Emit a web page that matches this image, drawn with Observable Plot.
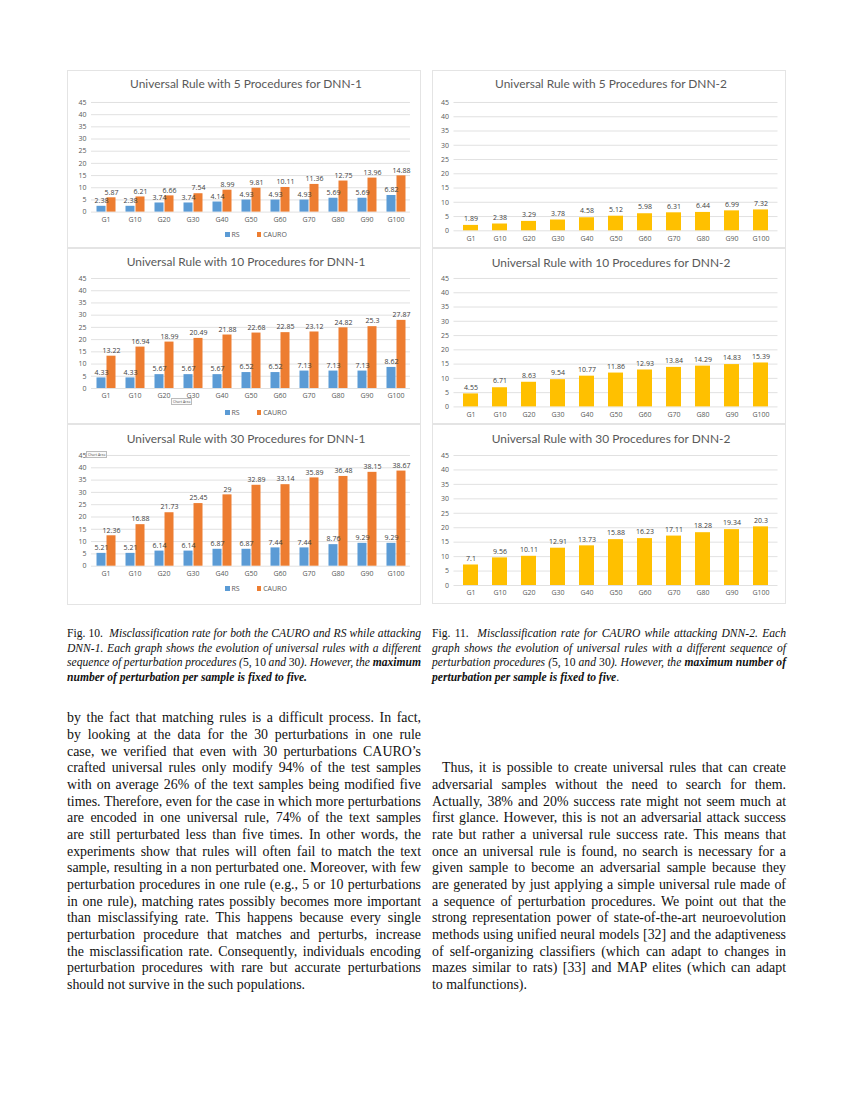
<!DOCTYPE html>
<html><head><meta charset="utf-8">
<script src="https://cdn.jsdelivr.net/npm/d3@7"></script>
<script src="https://cdn.jsdelivr.net/npm/@observablehq/plot@0.6"></script>
<style>
body{margin:0;background:#fff;}
#page{position:relative;width:850px;height:1100px;background:#fff;overflow:hidden;}
.panel{position:absolute;border:1px solid #e4e4e4;box-sizing:border-box;background:#fff;}
.title{position:absolute;white-space:nowrap;font-family:Lato,"Open Sans",sans-serif;color:#595959;line-height:1;}
.chart{position:absolute;}
.legend{position:absolute;font-family:"Open Sans",sans-serif;font-size:7px;color:#595959;white-space:nowrap;line-height:1;}
.legend .sw{display:inline-block;width:4.5px;height:4.5px;margin-right:2px;vertical-align:0px;}
.line{position:absolute;white-space:nowrap;font-family:"Liberation Serif","Times New Roman",serif;color:#111;}
.tip{position:absolute;font-family:"Open Sans",sans-serif;font-size:3.5px;color:#555;background:#fafafa;border:0.5px solid #bbb;padding:0 1px;line-height:5px;white-space:nowrap;}
</style></head><body><div id="page"></div>
<script>
// ---------------- data ----------------
const groups = ["G1","G10","G20","G30","G40","G50","G60","G70","G80","G90","G100"];
const series = ["RS","CAURO"];
const yTicks = [0,5,10,15,20,25,30,35,40,45];

const dnn1_p5_RS    = [2.38,2.38,3.74,3.74,4.14,4.93,4.93,4.93,5.69,5.69,6.82];
const dnn1_p5_CAURO = [5.87,6.21,6.66,7.54,8.99,9.81,10.11,11.36,12.75,13.96,14.88];
const dnn1_p10_RS    = [4.33,4.33,5.67,5.67,5.67,6.52,6.52,7.13,7.13,7.13,8.62];
const dnn1_p10_CAURO = [13.22,16.94,18.99,20.49,21.88,22.68,22.85,23.12,24.82,25.3,27.87];
const dnn1_p30_RS    = [5.21,5.21,6.14,6.14,6.87,6.87,7.44,7.44,8.76,9.29,9.29];
const dnn1_p30_CAURO = [12.36,16.88,21.73,25.45,29,32.89,33.14,35.89,36.48,38.15,38.67];

const dnn2_p5_CAURO  = [1.89,2.38,3.29,3.78,4.58,5.12,5.98,6.31,6.44,6.99,7.32];
const dnn2_p10_CAURO = [4.55,6.71,8.63,9.54,10.77,11.86,12.93,13.84,14.29,14.83,15.39];
const dnn2_p30_CAURO = [7.1,9.56,10.11,12.91,13.73,15.88,16.23,17.11,18.28,19.34,20.3];

const titles = {
  L1: "Universal Rule with 5 Procedures for DNN-1",
  L2: "Universal Rule with 10 Procedures for DNN-1",
  L3: "Universal Rule with 30 Procedures for DNN-1",
  R1: "Universal Rule with 5 Procedures for DNN-2",
  R2: "Universal Rule with 10 Procedures for DNN-2",
  R3: "Universal Rule with 30 Procedures for DNN-2"
};

const leftText = [
 "by the fact that matching rules is a difficult process. In fact,",
 "by looking at the data for the 30 perturbations in one rule",
 "case, we verified that even with 30 perturbations CAURO’s",
 "crafted universal rules only modify 94% of the test samples",
 "with on average 26% of the text samples being modified five",
 "times. Therefore, even for the case in which more perturbations",
 "are encoded in one universal rule, 74% of the text samples",
 "are still perturbated less than five times. In other words, the",
 "experiments show that rules will often fail to match the text",
 "sample, resulting in a non perturbated one. Moreover, with few",
 "perturbation procedures in one rule (e.g., 5 or 10 perturbations",
 "in one rule), matching rates possibly becomes more important",
 "than misclassifying rate. This happens because every single",
 "perturbation procedure that matches and perturbs, increase",
 "the misclassification rate. Consequently, individuals encoding",
 "perturbation procedures with rare but accurate perturbations",
 "should not survive in the such populations."
];
const rightText = [
 "Thus, it is possible to create universal rules that can create",
 "adversarial samples without the need to search for them.",
 "Actually, 38% and 20% success rate might not seem much at",
 "first glance. However, this is not an adversarial attack success",
 "rate but rather a universal rule success rate. This means that",
 "once an universal rule is found, no search is necessary for a",
 "given sample to become an adversarial sample because they",
 "are generated by just applying a simple universal rule made of",
 "a sequence of perturbation procedures. We point out that the",
 "strong representation power of state-of-the-art neuroevolution",
 "methods using unified neural models [32] and the adaptiveness",
 "of self-organizing classifiers (which can adapt to changes in",
 "mazes similar to rats) [33] and MAP elites (which can adapt",
 "to malfunctions)."
];
const cap10 = [
 "Fig. 10.&nbsp;&nbsp;<i>Misclassification rate for both the CAURO and RS while attacking</i>",
 "<i>DNN-1. Each graph shows the evolution of universal rules with a different</i>",
 "<i>sequence of perturbation procedures (</i>5, 10<i> and </i>30<i>). However, the <b>maximum</b></i>",
 "<b><i>number of perturbation per sample is fixed to five.</i></b>"
];
const cap11 = [
 "Fig. 11.&nbsp;&nbsp;<i>Misclassification rate for CAURO while attacking DNN-2. Each</i>",
 "<i>graph shows the evolution of universal rules with a different sequence of</i>",
 "<i>perturbation procedures (</i>5, 10<i> and </i>30<i>). However, the <b>maximum number of</b></i>",
 "<b><i>perturbation per sample is fixed to five</i></b>."
];

// ---------------- style ----------------
const BLUE = "#5B9BD5", ORANGE = "#ED7D31", GOLD = "#FFC000";
const GRID = "#d9d9d9", AXIS = "#595959", LABEL = "#404040";
const PW = 354;

const geo = {
  L1:{left:67, top:70,  h:178, titleY:85,  y45:101.7, y0:211.3, legendY:234},
  L2:{left:67, top:248, h:176, titleY:263, y45:278.3, y0:388.3, legendY:412},
  L3:{left:67, top:424, h:181, titleY:440, y45:455,   y0:565.7, legendY:588},
  R1:{left:432,top:70,  h:178, titleY:85,  y45:101.7, y0:230},
  R2:{left:432,top:248, h:176, titleY:264, y45:278.3, y0:406.7},
  R3:{left:432,top:424, h:180, titleY:440, y45:455,   y0:585}
};

const page = document.getElementById("page");
function el(tag, cls, css, html){
  const e = document.createElement(tag);
  if (cls) e.className = cls;
  Object.assign(e.style, css||{});
  if (html!=null) e.innerHTML = html;
  page.appendChild(e);
  return e;
}

const MT = 10, MB = 18, ML = 21.5, MR = 8.5;
const axisStyle = {fontFamily:"'Open Sans',sans-serif", fontSize:"7px", color:AXIS, background:"transparent", overflow:"visible"};

function groupedChart(key, rs, cauro){
  const g = geo[key];
  const data = groups.flatMap((grp,i)=>[{g:grp,s:"RS",v:rs[i]},{g:grp,s:"CAURO",v:cauro[i]}]);
  const ph = g.y0 - g.y45;
  const svg = Plot.plot({
    width: PW, height: ph + MT + MB,
    marginTop: MT, marginBottom: MB, marginLeft: ML, marginRight: MR,
    style: axisStyle,
    fx: {domain: groups, padding: 0, label: null, axis: "bottom", tickSize: 0, tickPadding: 5},
    x: {domain: series, paddingInner: 0.14, paddingOuter: 0.48, axis: null},
    y: {domain: [0,45], ticks: yTicks, tickSize: 0, tickPadding: 5, label: null},
    color: {domain: series, range: [BLUE, ORANGE]},
    marks: [
      Plot.ruleY(yTicks, {stroke: GRID, strokeWidth: 0.8}),
      Plot.barY(data, {fx:"g", x:"s", y:"v", fill:"s"}),
      Plot.text(data, {fx:"g", x:"s", y:"v", text: d => String(d.v), dy: -5.5, fill: LABEL, fontSize: 7})
    ]
  });
  place(key, svg);
  el("div","legend",{left:(225)+"px", top:(g.legendY-3.5)+"px"},
    `<span class="sw" style="background:${BLUE}"></span>RS<span style="display:inline-block;width:17px"></span><span class="sw" style="background:${ORANGE}"></span>CAURO`);
}

function singleChart(key, vals){
  const g = geo[key];
  const data = groups.map((grp,i)=>({g:grp, v:vals[i]}));
  const ph = g.y0 - g.y45;
  const svg = Plot.plot({
    width: PW, height: ph + MT + MB,
    marginTop: MT, marginBottom: MB, marginLeft: ML, marginRight: MR,
    style: axisStyle,
    x: {domain: groups, paddingInner: 0.49, paddingOuter: 0.245, label: null, tickSize: 0, tickPadding: 5},
    y: {domain: [0,45], ticks: yTicks, tickSize: 0, tickPadding: 5, label: null},
    marks: [
      Plot.ruleY(yTicks, {stroke: GRID, strokeWidth: 0.8}),
      Plot.barY(data, {x:"g", y:"v", fill: GOLD}),
      Plot.text(data, {x:"g", y:"v", text: d => String(d.v), dy: -6.5, fill: LABEL, fontSize: 7})
    ]
  });
  place(key, svg);
}

function place(key, svg){
  const g = geo[key];
  const wrap = el("div","chart",{left:g.left+"px", top:(g.y45-MT)+"px"});
  wrap.appendChild(svg);
}

// panels + titles
const titleEls = [];
for (const k of Object.keys(geo)){
  const g = geo[k];
  el("div","panel",{left:g.left+"px", top:g.top+"px", width:PW+"px", height:g.h+"px"});
  const t = el("div","title",{top:"0px", left:"0px", fontSize:"12px"}, titles[k]);
  titleEls.push([t,g]);
}
// fit title font so that the 5-procedure title spans ~232px
const probe = titleEls[0][0];
const fs = 12 * 232 / probe.getBoundingClientRect().width;
for (const [t,g] of titleEls){
  t.style.fontSize = fs + "px";
  const w = t.getBoundingClientRect().width;
  t.style.left = (g.left + PW/2 + 2 - w/2) + "px";
  t.style.top = (g.titleY - fs*0.55) + "px";
}

groupedChart("L1", dnn1_p5_RS, dnn1_p5_CAURO);
groupedChart("L2", dnn1_p10_RS, dnn1_p10_CAURO);
groupedChart("L3", dnn1_p30_RS, dnn1_p30_CAURO);
singleChart("R1", dnn2_p5_CAURO);
singleChart("R2", dnn2_p10_CAURO);
singleChart("R3", dnn2_p30_CAURO);

// little "Chart Area" tooltips visible in the screenshot
el("div","tip",{left:"86px", top:"451px"}, "Chart Area");
el("div","tip",{left:"171px", top:"398px"}, "Chart Area");

// ---------------- text ----------------
function textBlock(lines, left, width, firstCy, lh, fontSize, indent, isHTML){
  lines.forEach((ln, i) => {
    const top = firstCy + i*lh - (lh/2 + 0.25*fontSize);
    const d = el("div","line",{left:(left + (i===0?indent:0))+"px", top:top+"px",
      fontSize:fontSize+"px", lineHeight:lh+"px"});
    const s = document.createElement("span");
    if (isHTML) s.innerHTML = ln; else s.textContent = ln;
    d.appendChild(s);
    const w = s.getBoundingClientRect().width;
    const avail = width - (i===0?indent:0);
    const spaces = (s.textContent.match(/[ \u00a0]/g)||[]).length;
    if (i < lines.length-1 && spaces > 0){
      d.style.wordSpacing = ((avail - w)/spaces) + "px";
    }
  });
}
textBlock(cap10, 67, 354, 637.5, 14.4, 11.6, 0, true);
textBlock(cap11, 432, 354, 637.5, 14.4, 11.6, 0, true);
textBlock(leftText, 67, 354, 722, 16.67, 13.9, 0, false);
textBlock(rightText, 432, 354, 772, 16.67, 13.9, 10, false);
</script>
</body></html>
